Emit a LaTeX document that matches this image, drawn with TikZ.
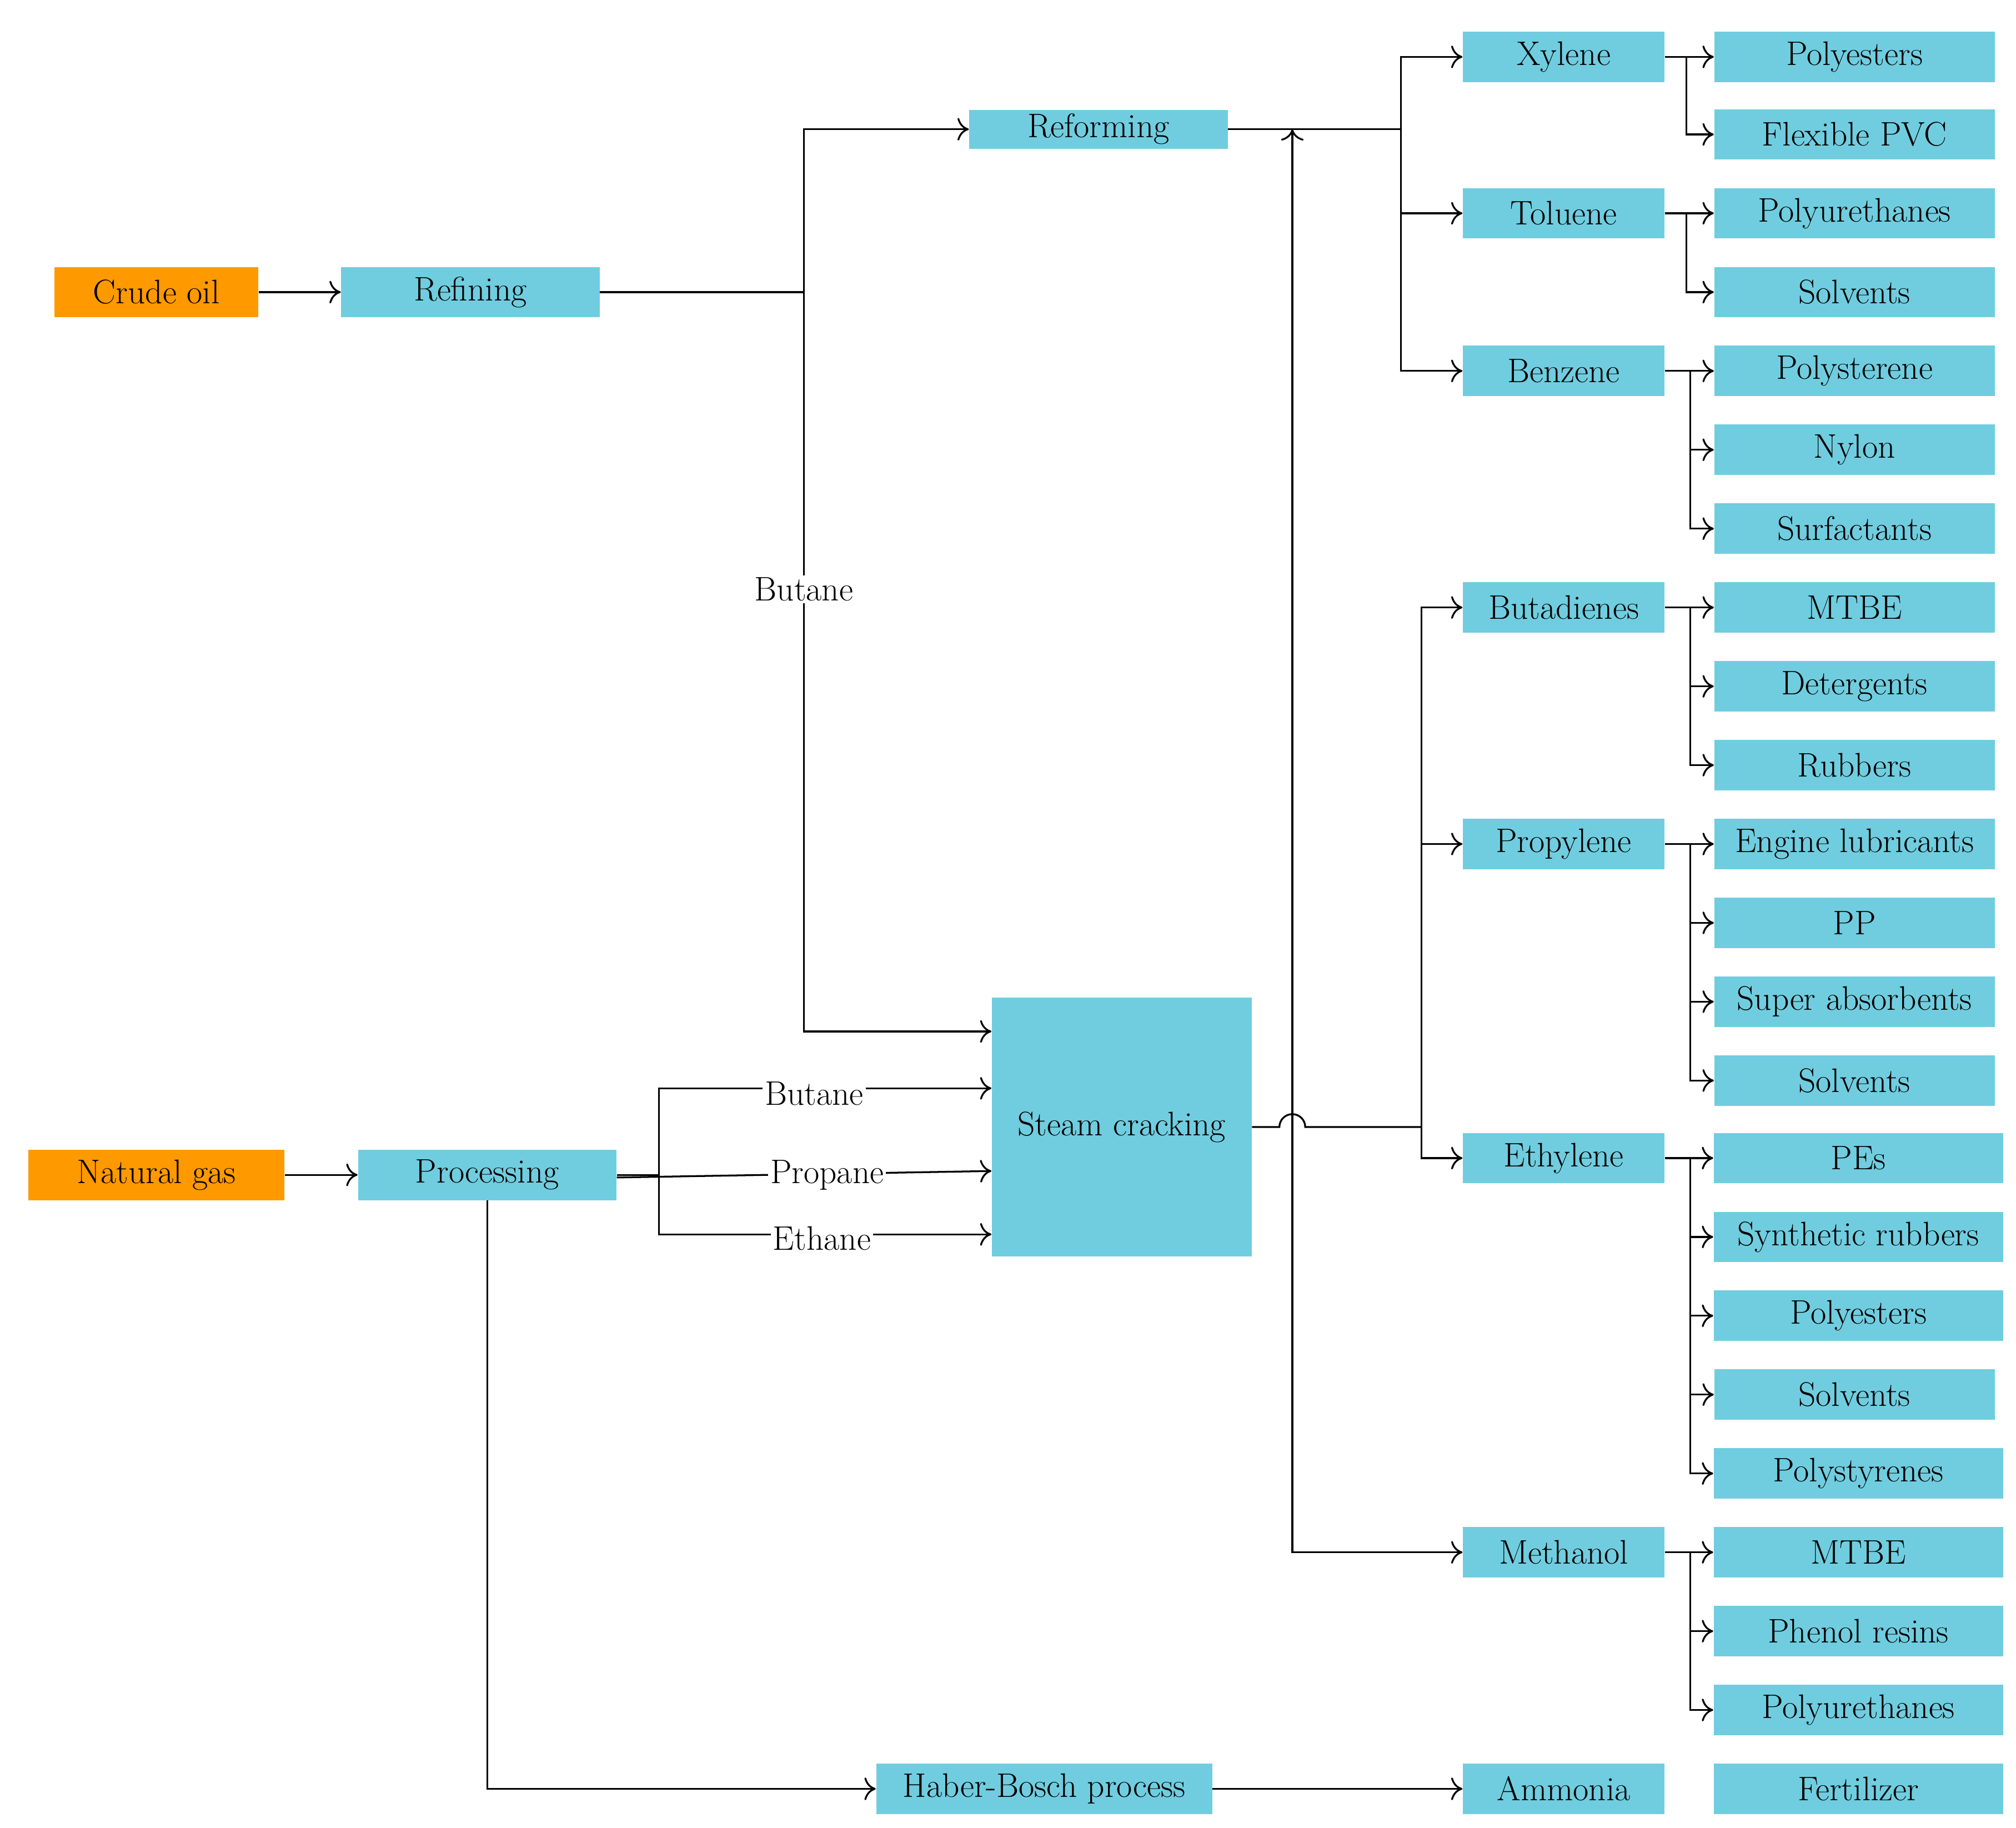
\documentclass[tikz,border=0pt]{standalone}
\usetikzlibrary{arrows.meta}
\definecolor{cy}{HTML}{70CDDF}
\definecolor{og}{HTML}{FF9900}
\begin{document}
\begin{tikzpicture}[x=0.02cm,y=-0.02cm,
 box/.style={fill=cy,minimum height=0.78cm,inner sep=0pt,font=\fontsize{15}{18}\selectfont},
 src/.style={box,fill=og},
 mid/.style={box,minimum width=3.12cm},
 leaf/.style={box,minimum width=4.34cm},
 wleaf/.style={box,minimum width=4.48cm},
 arr/.style={-{To[length=5pt,width=10pt]},line width=0.8pt},
 ln/.style={line width=0.8pt},
 lab/.style={fill=white,inner sep=1pt,font=\fontsize{15}{18}\selectfont}]
\useasboundingbox (0,0) rectangle (1560,1414);
\node[src,minimum width=3.16cm] (crude) at (121,226) {Crude oil};
\node[box,minimum width=4cm] (ref) at (364,226) {Refining};
\node[box,minimum width=4cm,minimum height=0.6cm] (refo) at (850,100) {Reforming};
\node[src,minimum width=3.96cm] (gas) at (121,909) {Natural gas};
\node[box,minimum width=4cm] (proc) at (377,909) {Processing};
\node[box,minimum width=4.02cm,minimum height=4cm] (steam) at (868,872) {Steam cracking};
\node[box,minimum width=5.2cm] (hab) at (808,1384) {Haber-Bosch process};
\node[mid] (xyl) at (1210,44) {Xylene};
\node[mid] (tol) at (1210,165) {Toluene};
\node[mid] (ben) at (1210,287) {Benzene};
\node[mid] (but) at (1210,470) {Butadienes};
\node[mid] (pro) at (1210,653) {Propylene};
\node[mid] (eth) at (1210,896) {Ethylene};
\node[mid] (met) at (1210,1201) {Methanol};
\node[mid] (amm) at (1210,1384) {Ammonia};
\node[leaf] (l1) at (1435,44) {Polyesters};
\node[leaf] (l2) at (1435,104) {Flexible PVC};
\node[leaf] (l3) at (1435,165) {Polyurethanes};
\node[leaf] (l4) at (1435,226) {Solvents};
\node[leaf] (l5) at (1435,287) {Polysterene};
\node[leaf] (l6) at (1435,348) {Nylon};
\node[leaf] (l7) at (1435,409) {Surfactants};
\node[leaf] (l8) at (1435,470) {MTBE};
\node[leaf] (l9) at (1435,531) {Detergents};
\node[leaf] (l10) at (1435,592) {Rubbers};
\node[leaf] (l11) at (1435,653) {Engine lubricants};
\node[leaf] (l12) at (1435,714) {PP};
\node[leaf] (l13) at (1435,775) {Super absorbents};
\node[leaf] (l14) at (1435,836) {Solvents};
\node[wleaf] (l15) at (1438,896) {PEs};
\node[wleaf] (l16) at (1438,957) {Synthetic rubbers};
\node[wleaf] (l17) at (1438,1018) {Polyesters};
\node[leaf] (l18) at (1435,1079) {Solvents};
\node[wleaf] (l19) at (1438,1140) {Polystyrenes};
\node[wleaf] (l20) at (1438,1201) {MTBE};
\node[wleaf] (l21) at (1438,1262) {Phenol resins};
\node[wleaf] (l22) at (1438,1323) {Polyurethanes};
\node[wleaf] (l23) at (1438,1384) {Fertilizer};
\coordinate (rj) at (622,226);
\coordinate (pj) at (510,909);
\coordinate (fj) at (1084,100);
\coordinate (sj) at (1100,872);
\coordinate (mv) at (1000,100);
% edges
\draw[arr] (crude) -- (ref);
\draw[arr] (gas) -- (proc);
\draw[ln] (ref) -- (rj);
\draw[arr] (rj) |- (refo);
\draw[arr] (rj) -- (622,798) -- (steam.west |- 0,798);
\node[lab] (lb1) at (622,456) {Butane};
\draw[ln] (proc) -- (pj);
\draw[arr] (pj) |- (steam.west |- 0,842);
\draw[arr] (pj) |- (steam.west |- 0,955);
\draw[arr] (proc.east |- 0,911) -- (steam.west |- 0,906);
\node[lab] (lb2) at (630,846) {Butane};
\node[lab] (lb3) at (640,909) {Propane};
\node[lab] (lb4) at (636,958) {Ethane};
\draw[arr] (proc.south) |- (hab);
\draw[arr] (hab) -- (amm);
\draw[ln] (refo) -- (fj);
\foreach \c in {xyl,tol,ben} \draw[arr] (fj) |- (\c);
\draw[ln] (steam.east) -- (990,872) arc[start angle=180,end angle=0,x radius=10,y radius=-10] -- (sj);
\foreach \c in {but,pro,eth} \draw[arr] (sj) |- (\c);
\draw[arr] (mv) -- (1000,1201) -- (met);
\draw[arr] (1000,1201) -- (mv);
\foreach \p/\a/\b in {xyl/l1/l2,tol/l3/l4} {
  \draw[arr] (\p) -- (\a);
  \draw[arr] (\p.east) -- (1305,0 |- \p.east) |- (\b);
}
\foreach \p/\ls in {ben/{l5,l6,l7},but/{l8,l9,l10},pro/{l11,l12,l13,l14},eth/{l15,l16,l17,l18,l19},met/{l20,l21,l22}} {
  \foreach \c in \ls \draw[arr] (\p.east) -- (1308,0 |- \p.east) |- (\c);
}
\end{tikzpicture}
\end{document}
